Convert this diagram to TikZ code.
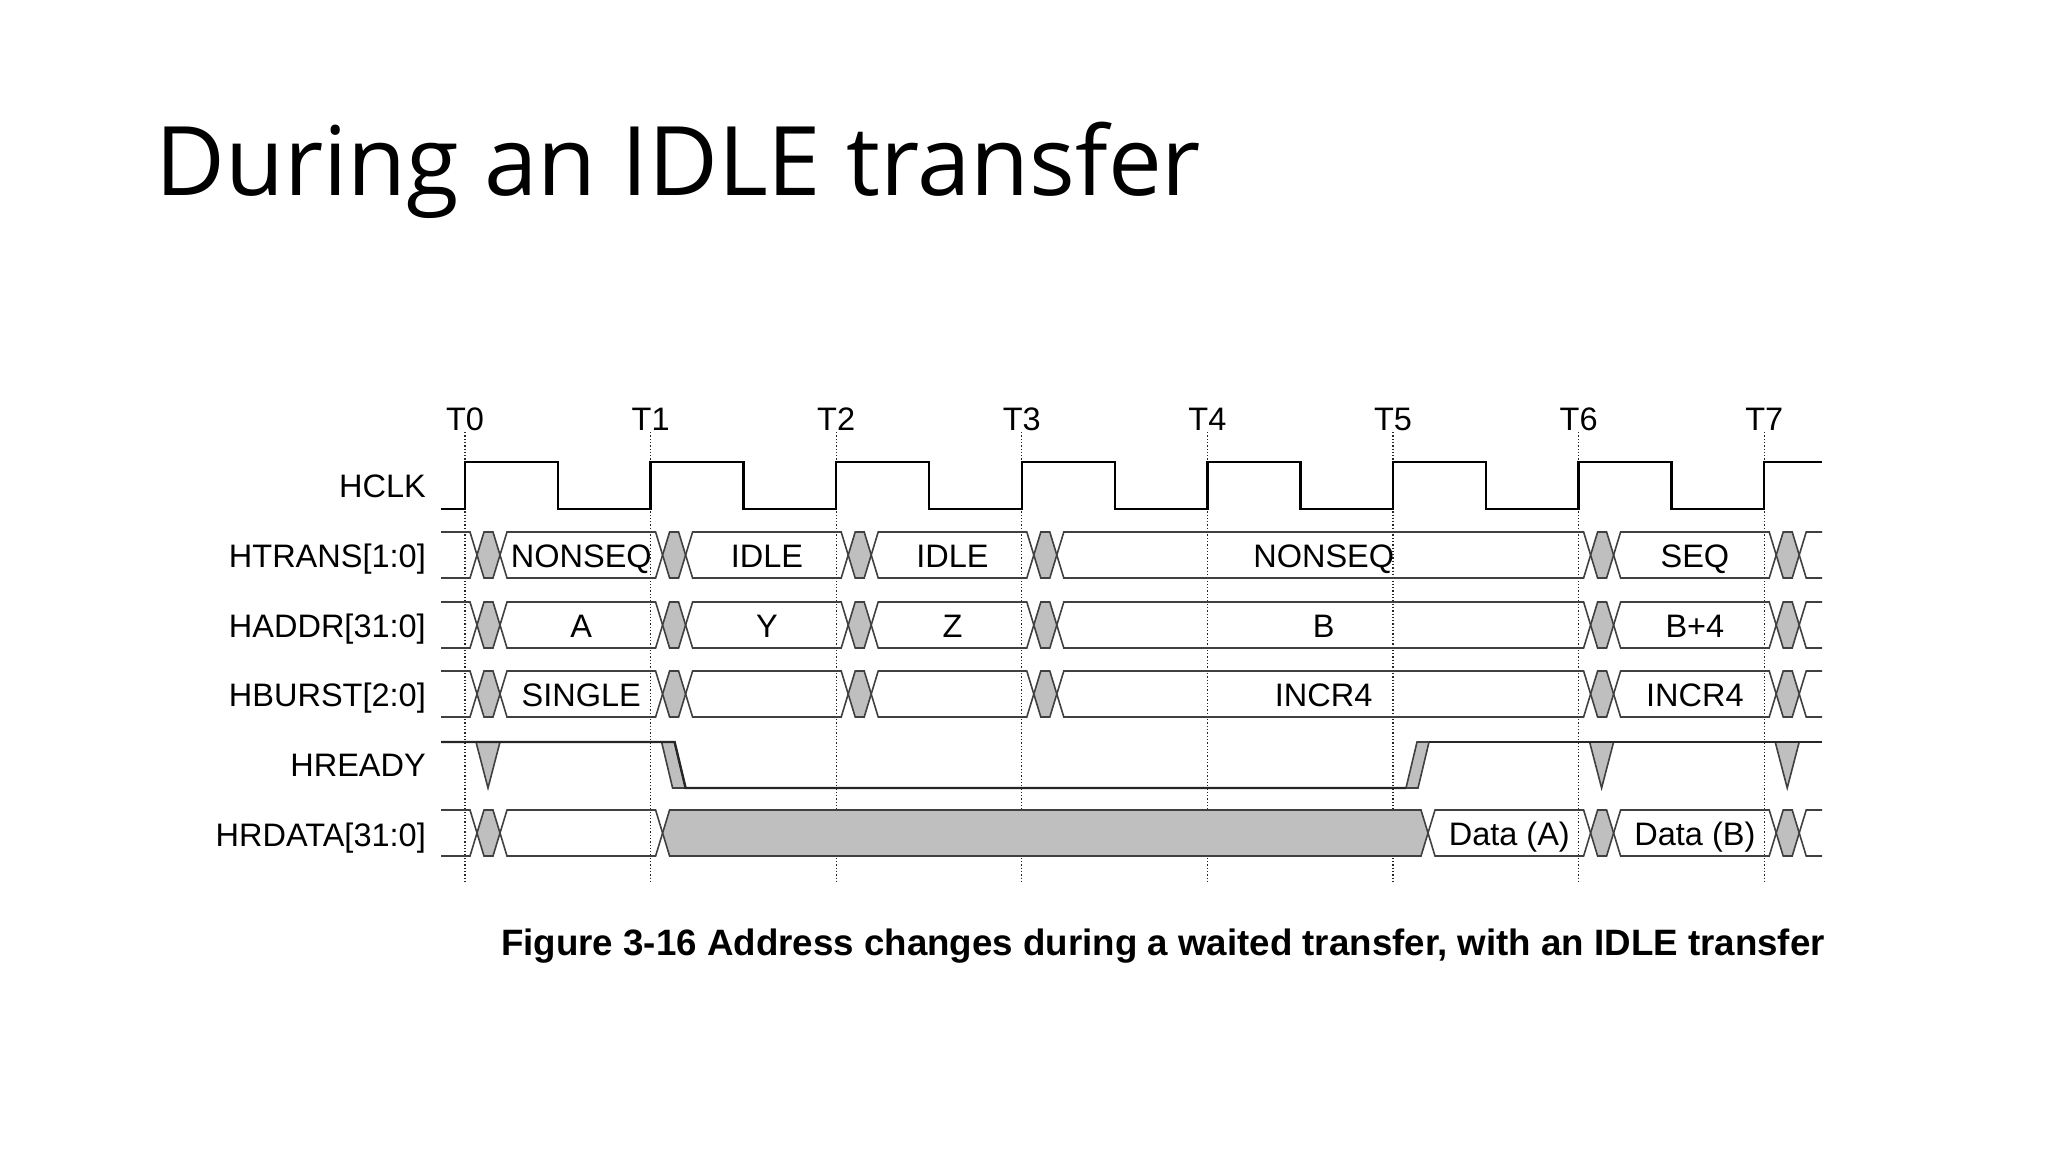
\documentclass[tikz,border=0pt]{standalone}
\usepackage{fontspec}
\setmainfont{Liberation Sans}
\newfontfamily\titlefont{Open Sans}
\begin{document}
\begin{tikzpicture}[x=1pt,y=-1pt,
  bus/.style={draw=black!75,line width=1.6pt,line join=miter},
  gfill/.style={fill=black!25},
  clk/.style={draw=black,line width=2.4pt},
  grid/.style={draw=black!85,line width=1.3pt,dotted},
  sig/.style={font=\fontsize{32.5}{36}\selectfont,inner sep=0pt,anchor=base},
  lbl/.style={font=\fontsize{32.5}{36}\selectfont,anchor=base east,inner sep=0pt}]
\useasboundingbox (0,0) rectangle (2048,1152);
\def\tA{465}\def\tB{650.6}\def\tC{836.2}\def\tD{1021.8}\def\tE{1207.4}\def\tF{1393}\def\tG{1578.6}\def\tH{1764.2}
\newcommand\seg[5]{\draw[bus,#4] (#1,#3+23) -- (#1+7,#3) -- (#2-7,#3) -- (#2,#3+23) -- (#2-7,#3+46) -- (#1+7,#3+46) -- cycle;
  \node[sig] at ({(#1+#2)/2},#3+35) {#5};}
\newcommand\firstseg[2]{\draw[bus] (441,#2) -- (#1-7,#2) -- (#1,#2+23) -- (#1-7,#2+46) -- (441,#2+46);}
\newcommand\finseg[2]{\draw[bus] (1822,#2) -- (#1+7,#2) -- (#1,#2+23) -- (#1+7,#2+46) -- (1822,#2+46);}
% title and caption
\node[anchor=west,inner sep=0pt,font=\titlefont\fontsize{96}{110}\selectfont] (title) at (155,170) {During an IDLE transfer};
\node[inner sep=0pt,font=\bfseries\fontsize{36.7}{42}\selectfont] (cap) at (1163,946) {Figure 3-16 Address changes during a waited transfer, with an IDLE transfer};
% grid and T labels
\foreach \t/\n [count=\i from 0] in {\tA/T0,\tB/T1,\tC/T2,\tD/T3,\tE/T4,\tF/T5,\tG/T6,\tH/T7}{
  \draw[grid] (\t,432) -- (\t,882);
  \node[sig] (T\i) at (\t+0,430) {\n};
}
% labels
\node[lbl] (l1) at (426,497) {HCLK};
\node[lbl] (l2) at (426,567) {HTRANS[1:0]};
\node[lbl] (l3) at (426,637) {HADDR[31:0]};
\node[lbl] (l4) at (426,706) {HBURST[2:0]};
\node[lbl] (l5) at (426,776) {HREADY};
\node[lbl] (l6) at (426,846) {HRDATA[31:0]};
% clock
\draw[clk] (441,509) -- (\tA,509) -- (\tA,462) -- (\tA+93,462) -- (\tA+93,509)
  -- (\tB,509) -- (\tB,462) -- (\tB+93,462) -- (\tB+93,509)
  -- (\tC,509) -- (\tC,462) -- (\tC+93,462) -- (\tC+93,509)
  -- (\tD,509) -- (\tD,462) -- (\tD+93,462) -- (\tD+93,509)
  -- (\tE,509) -- (\tE,462) -- (\tE+93,462) -- (\tE+93,509)
  -- (\tF,509) -- (\tF,462) -- (\tF+93,462) -- (\tF+93,509)
  -- (\tG,509) -- (\tG,462) -- (\tG+93,462) -- (\tG+93,509)
  -- (\tH,509) -- (\tH,462) -- (1822,462);
% bus rows
\foreach \y/\a/\b/\c/\d/\e in {532/NONSEQ/IDLE/IDLE/NONSEQ/SEQ, 602/A/Y/Z/B/B+4, 671/SINGLE/{}/{}/INCR4/INCR4}{
  \firstseg{\tA+12}{\y}
  \seg{\tA+12}{\tA+35}{\y}{gfill}{}
  \seg{\tA+35}{\tB+12}{\y}{}{\a}
  \seg{\tB+12}{\tB+35}{\y}{gfill}{}
  \seg{\tB+35}{\tC+12}{\y}{}{\b}
  \seg{\tC+12}{\tC+35}{\y}{gfill}{}
  \seg{\tC+35}{\tD+12}{\y}{}{\c}
  \seg{\tD+12}{\tD+35}{\y}{gfill}{}
  \seg{\tD+35}{\tG+12}{\y}{}{\d}
  \seg{\tG+12}{\tG+35}{\y}{gfill}{}
  \seg{\tG+35}{\tH+12}{\y}{}{\e}
  \seg{\tH+12}{\tH+35}{\y}{gfill}{}
  \finseg{\tH+35}{\y}
}
% HRDATA
\firstseg{\tA+12}{810}
\seg{\tA+12}{\tA+35}{810}{gfill}{}
\seg{\tA+35}{\tB+12}{810}{}{}
\seg{\tB+12}{\tF+35}{810}{gfill}{}
\seg{\tF+35}{\tG+12}{810}{}{Data (A)}
\seg{\tG+12}{\tG+35}{810}{gfill}{}
\seg{\tG+35}{\tH+12}{810}{}{Data (B)}
\seg{\tH+12}{\tH+35}{810}{gfill}{}
\finseg{\tH+35}{810}
% HREADY
\draw[bus,gfill] (\tB+11,742) -- (\tB+24,742) -- (\tB+35,788) -- (\tB+22,788) -- cycle;
\draw[bus,gfill] (\tF+13,788) -- (\tF+25,788) -- (\tF+36,742) -- (\tF+24,742) -- cycle;
\foreach \t in {\tA,\tG,\tH}{
  \draw[bus,gfill] (\t+11,742) -- (\t+23,788) -- (\t+35,742);
}
\draw[clk,draw=black!85] (441,742) -- (\tB+24,742) -- (\tB+35,788) -- (\tF+13,788);
\draw[clk,draw=black!85] (\tF+36,742) -- (1822,742);
\end{tikzpicture}
\end{document}
